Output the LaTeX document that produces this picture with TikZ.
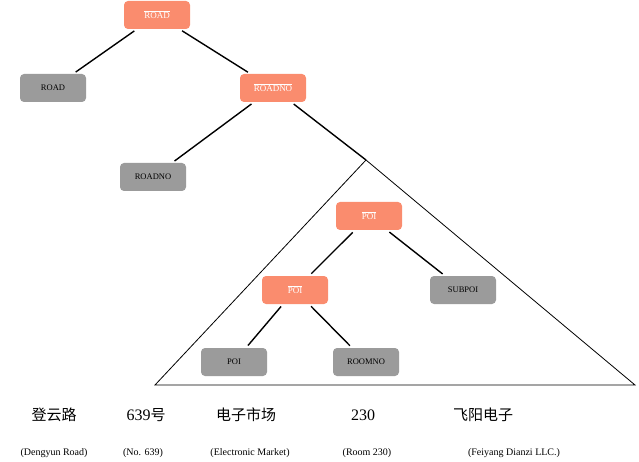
\documentclass[tikz,border=0pt]{standalone}
\usepackage{fontspec}
\setmainfont{Liberation Serif}
\newfontfamily\cjk{Noto Sans CJK SC}
\definecolor{salmon}{HTML}{FA8C6E}
\definecolor{greybox}{HTML}{9B9B9B}
\begin{document}
\begin{tikzpicture}[x=1pt,y=-1pt,
  hb/.style={fill=salmon,rounded corners=4pt,minimum width=66pt,minimum height=28pt,text=white,font=\fontsize{9}{10}\selectfont,inner sep=0pt},
  lb/.style={fill=greybox,rounded corners=4pt,minimum width=66pt,minimum height=28pt,text=black,font=\fontsize{8.5}{10}\selectfont,inner sep=0pt},
  ed/.style={line width=1.4pt,shorten <=3pt,shorten >=3pt},
  zh/.style={font=\cjk\fontsize{15}{17}\selectfont},
  en/.style={font=\fontsize{10}{12}\selectfont}]
\useasboundingbox (0,0) rectangle (639,462);
\node[hb] (r0) at (157,15) {$\overline{\mbox{ROAD}}$};
\node[lb] (r1) at (53,88) {ROAD};
\node[hb] (rn0) at (273,88) {$\overline{\mbox{ROADNO}}$};
\node[lb] (rn1) at (153,177) {ROADNO};
\coordinate (apex) at (366,160);
\coordinate (bl) at (155,385);
\coordinate (br) at (635,385);
\draw[line width=0.8pt] (apex) -- (bl) -- (br) -- cycle;
\node[hb] (p0) at (369,216) {$\overline{\mbox{POI}}$};
\node[hb] (p1) at (295,290) {$\overline{\mbox{POI}}$};
\node[lb] (sp) at (463,290) {SUBPOI};
\node[lb] (p2) at (234,362) {POI};
\node[lb] (rm) at (366,362) {ROOMNO};
\draw[ed] (r0) -- (r1);
\draw[ed] (r0) -- (rn0);
\draw[ed] (rn0) -- (rn1);
\draw[ed,shorten >=0pt] (rn0) -- (apex);
\draw[ed] (p0) -- (p1);
\draw[ed] (p0) -- (sp);
\draw[ed] (p1) -- (p2);
\draw[ed] (p1) -- (rm);
\node[zh] (c1) at (54,415) {登云路};
\node[zh] (c2) at (146,415) {{\rmfamily\fontsize{16}{18}\selectfont 639}号};
\node[zh] (c3) at (246,415) {电子市场};
\node[zh] (c4) at (363,415) {\rmfamily\fontsize{16}{18}\selectfont 230};
\node[zh] (c5) at (483,415) {飞阳电子};
\node[en] (e1) at (54,453) {(Dengyun Road)};
\node[en] (e2) at (143,453) {(No. 639)};
\node[en] (e3) at (250,453) {(Electronic Market)};
\node[en] (e4) at (367,453) {(Room 230)};
\node[en] (e5) at (514,453) {(Feiyang Dianzi LLC.)};
\end{tikzpicture}
\end{document}
